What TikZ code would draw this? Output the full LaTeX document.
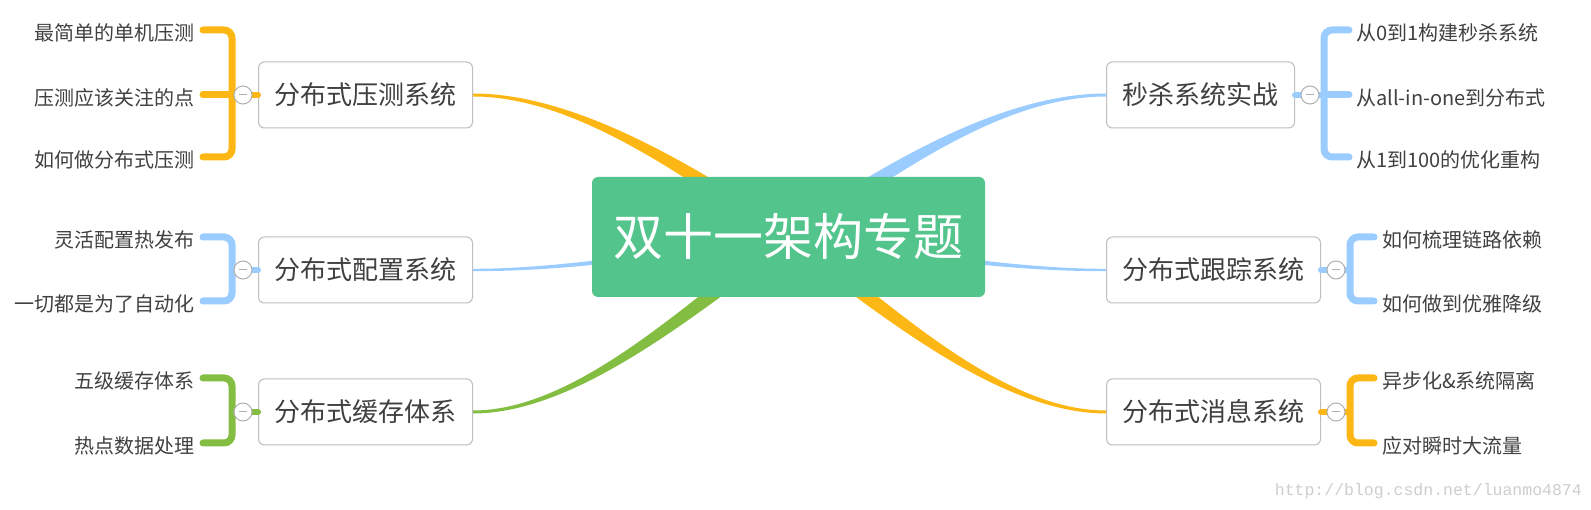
\documentclass[tikz,border=0pt]{standalone}
\usepackage{fontspec}
\newfontfamily\cjk{Noto Sans CJK SC}
\newfontfamily\wmfont{Liberation Mono}
\usetikzlibrary{calc}
\definecolor{mmorange}{RGB}{253,183,20}
\definecolor{mmblue}{RGB}{155,204,255}
\definecolor{mmgreen}{RGB}{131,189,65}
\definecolor{mmhub}{RGB}{82,196,140}
\definecolor{mmtext}{RGB}{64,64,64}
\definecolor{mmborder}{RGB}{190,190,190}
\definecolor{mmfold}{RGB}{175,175,175}
\definecolor{mmwater}{RGB}{205,205,205}
\tikzset{
  hubbox/.style={fill=mmhub, rounded corners=6, text=white, font=\cjk\fontsize{50}{60}\selectfont,
    minimum width=393, minimum height=120, inner sep=0,
    execute at begin node=\lower6pt\hbox\bgroup, execute at end node=\egroup},
  topicbox/.style={draw=mmborder, fill=white, rounded corners=6, text=mmtext,
    font=\cjk\fontsize{26}{30}\selectfont, minimum height=66, inner xsep=16, line width=1,
    execute at begin node=\lower3pt\hbox\bgroup, execute at end node=\egroup},
  leaf/.style={font=\cjk\fontsize{20}{24}\selectfont, text=mmtext, inner sep=0},
  bracket/.style={line width=7, rounded corners=8, line cap=round},
  foldstub/.style={line width=6, line cap=round},
  fold/.style={circle, draw=mmfold, fill=white, minimum size=18, inner sep=0, line width=1},
}
% tapered branch: colour, start, control 1, control 2, half width at hub, half width at start
\newcommand{\taper}[6]{%
  \fill[#1] ($#2+(0,-#6)$) .. controls ($#3+(0,-#6)$) and ($#4+#5$) .. ($(hubc)+#5$)
    -- ($(hubc)-#5$) .. controls ($#4-#5$) and ($#3+(0,#6)$) .. ($#2+(0,#6)$) -- cycle;}
\begin{document}
\begin{tikzpicture}[x=1pt,y=-1pt]
    \useasboundingbox (0,0) rectangle (1591,510);
    \coordinate (hubc) at (788.5,237);
    % topics
    \node[topicbox,anchor=west] (ta) at (258,95) {分布式压测系统};
    \node[topicbox,anchor=west] (tb) at (258,270) {分布式配置系统};
    \node[topicbox,anchor=west] (tc) at (258,412) {分布式缓存体系};
    \node[topicbox,anchor=west] (sa) at (1106,95) {秒杀系统实战};
    \node[topicbox,anchor=west] (sb) at (1106,270) {分布式跟踪系统};
    \node[topicbox,anchor=west] (sc) at (1106,412) {分布式消息系统};
    % main branches
    \taper{mmorange}{(ta.east)}{(580,95)}{(698,178)}{(4.4,-6.7)}{1.5}
    \taper{mmblue}{(tb.east)}{(540,270)}{(620,262)}{(0,-3)}{1.2}
    \taper{mmgreen}{(tc.east)}{(580,412)}{(700,300)}{(-4.4,-6.7)}{1.5}
    \taper{mmblue}{(sa.west)}{(996,95)}{(878,178)}{(-4.4,-6.7)}{1.5}
    \taper{mmblue}{(sb.west)}{(1036,270)}{(956,262)}{(0,-3)}{1.2}
    \taper{mmorange}{(sc.west)}{(996,412)}{(876,300)}{(4.4,-6.7)}{1.5}
    \node[hubbox] (hub) at (hubc) {双十一架构专题};

    % left leaves
    \node[leaf,anchor=east] (la1) at (195,33) {最简单的单机压测};
    \node[leaf,anchor=east] (la2) at (195,98) {压测应该关注的点};
    \node[leaf,anchor=east] (la3) at (195,160) {如何做分布式压测};
    \node[leaf,anchor=east] (lb1) at (195,240) {灵活配置热发布};
    \node[leaf,anchor=east] (lb2) at (195,304) {一切都是为了自动化};
    \node[leaf,anchor=east] (lc1) at (195,381) {五级缓存体系};
    \node[leaf,anchor=east] (lc2) at (195,446) {热点数据处理};
    % right leaves
    \node[leaf,anchor=west] (ra1) at (1356,33) {从0到1构建秒杀系统};
    \node[leaf,anchor=west] (ra2) at (1356,98) {从all-in-one到分布式};
    \node[leaf,anchor=west] (ra3) at (1356,160) {从1到100的优化重构};
    \node[leaf,anchor=west] (rb1) at (1382,240) {如何梳理链路依赖};
    \node[leaf,anchor=west] (rb2) at (1382,304) {如何做到优雅降级};
    \node[leaf,anchor=west] (rc1) at (1382,381) {异步化\&系统隔离};
    \node[leaf,anchor=west] (rc2) at (1382,446) {应对瞬时大流量};

    % brackets left
    \coordinate (ka) at ([xshift=-26]ta.west);
    \coordinate (kb) at ([xshift=-26]tb.west);
    \coordinate (kc) at ([xshift=-26]tc.west);
    \draw[bracket,mmorange] ([shift={(8,-3)}]la1.east) -| (ka) |- ([shift={(8,-3)}]la3.east);
    \draw[bracket,mmorange] ([shift={(8,-3)}]la2.east) -- (ka);
    \draw[bracket,mmblue] ([shift={(8,-3)}]lb1.east) -| (kb) |- ([shift={(8,-3)}]lb2.east);
    \draw[bracket,mmgreen] ([shift={(8,-3)}]lc1.east) -| (kc) |- ([shift={(8,-3)}]lc2.east);
    \draw[foldstub,mmorange] (ka) -- (ta.west);
    \draw[foldstub,mmblue] (kb) -- (tb.west);
    \draw[foldstub,mmgreen] (kc) -- (tc.west);
    % brackets right
    \coordinate (ja) at ([xshift=29]sa.east);
    \coordinate (jb) at ([xshift=29]sb.east);
    \coordinate (jc) at ([xshift=29]sc.east);
    \draw[bracket,mmblue] ([shift={(-7,-3)}]ra1.west) -| (ja) |- ([shift={(-7,-3)}]ra3.west);
    \draw[bracket,mmblue] ([shift={(-7,-3)}]ra2.west) -- (ja);
    \draw[bracket,mmblue] ([shift={(-8,-3)}]rb1.west) -| (jb) |- ([shift={(-8,-3)}]rb2.west);
    \draw[bracket,mmorange] ([shift={(-8,-3)}]rc1.west) -| (jc) |- ([shift={(-8,-3)}]rc2.west);
    \draw[foldstub,mmblue] (ja) -- (sa.east);
    \draw[foldstub,mmblue] (jb) -- (sb.east);
    \draw[foldstub,mmorange] (jc) -- (sc.east);
    % fold circles
    \node[fold] (fa) at ([xshift=-15]ta.west) {};
    \node[fold] (fb) at ([xshift=-15]tb.west) {};
    \node[fold] (fc) at ([xshift=-15]tc.west) {};
    \node[fold] (ga) at ([xshift=15]sa.east) {};
    \node[fold] (gb) at ([xshift=15]sb.east) {};
    \node[fold] (gc) at ([xshift=15]sc.east) {};
    \foreach \c in {fa,fb,fc,ga,gb,gc}
        \draw[mmfold,line width=1] ([xshift=-4]\c.center) -- ([xshift=4]\c.center);

    \node[font=\wmfont\fontsize{16.5}{18}\selectfont,text=mmwater,anchor=east,inner sep=0] (wm) at (1582,491) {http://blog.csdn.net/luanmo4874};
\end{tikzpicture}
\end{document}
